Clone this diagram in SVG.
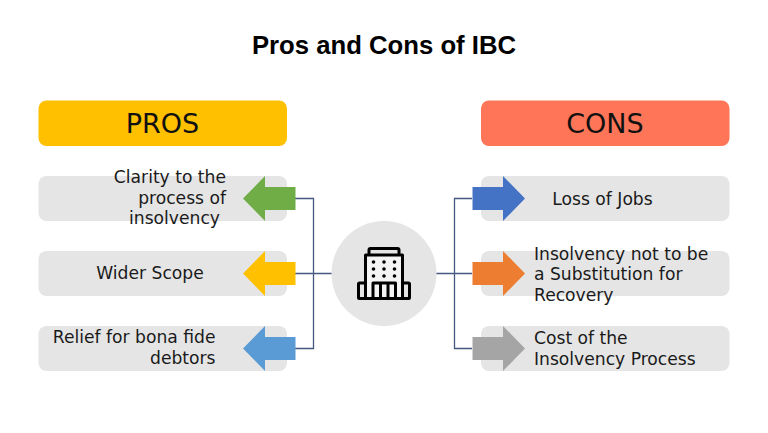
<svg xmlns="http://www.w3.org/2000/svg" width="768" height="433" viewBox="0 0 768 433">
<style>
.card{fill:#e5e5e5}
.t{font-family:"DejaVu Sans",sans-serif;font-size:17.150px;fill:#1a1a1a}
.h{font-family:"DejaVu Sans",sans-serif;font-size:27px;fill:#111;text-anchor:middle}
.e{text-anchor:end}
.m{text-anchor:middle}
.c{fill:none;stroke:#44597f;stroke-width:1.3}
.i{fill:none;stroke:#000;stroke-width:3;stroke-linejoin:round}
</style>
<rect width="768" height="433" fill="#fff"/>
<text id="title" x="384" y="53.500" text-anchor="middle" font-family="Liberation Sans, Arial, sans-serif" font-weight="700" font-size="25.700" fill="#000">Pros and Cons of IBC</text>
<g id="connectors">
<path class="c" d="M295 198.500H313.500V348.500H295M295 273.500H332"/>
<path class="c" d="M472 198.500H454.500V348.500H472M436 273.500H472"/>
</g>
<g id="pros-header"><rect x="38.500" y="100.500" width="248.500" height="45.500" rx="8" fill="#ffc000"/><text class="h" x="162.500" y="133">PROS</text></g>
<g id="cons-header"><rect x="481" y="100.500" width="248.500" height="45.500" rx="8" fill="#ff7557"/><text class="h" x="605" y="133">CONS</text></g>
<g id="pro1"><rect class="card" x="38.500" y="176" width="248.500" height="45" rx="8"/><path fill="#70ad47" d="M243 198.500L265 176V187H295.500V210H265V221Z"/>
<text class="t e" y="183"><tspan x="226" dy="0">Clarity to the</tspan><tspan x="226" dy="20.500">process of</tspan><tspan x="220" dy="20.500">insolvency</tspan></text></g>
<g id="pro2"><rect class="card" x="38.500" y="251" width="248.500" height="45" rx="8"/><path fill="#ffc000" d="M243 273.500L265 251V262H295.500V285H265V296Z"/>
<text class="t m" x="150" y="278.500">Wider Scope</text></g>
<g id="pro3"><rect class="card" x="38.500" y="326" width="248.500" height="45" rx="8"/><path fill="#5b9bd5" d="M243 348.500L265 326V337H295.500V360H265V371Z"/>
<text class="t e" y="343"><tspan x="215.500" dy="0">Relief for bona fide</tspan><tspan x="215.500" dy="21">debtors</tspan></text></g>
<g id="con1"><rect class="card" x="481" y="176" width="248.500" height="45" rx="8"/><path fill="#4472c4" d="M525 198.500L503 176V187H472.500V210H503V221Z"/>
<text class="t m" x="602.500" y="204.500">Loss of Jobs</text></g>
<g id="con2"><rect class="card" x="481" y="251" width="248.500" height="45" rx="8"/><path fill="#ed7d31" d="M525 273.500L503 251V262H472.500V285H503V296Z"/>
<text class="t" y="259.500"><tspan x="534" dy="0">Insolvency not to be</tspan><tspan x="534" dy="20.500">a Substitution for</tspan><tspan x="534" dy="20.500">Recovery</tspan></text></g>
<g id="con3"><rect class="card" x="481" y="326" width="248.500" height="45" rx="8"/><path fill="#a5a5a5" d="M525 348.500L503 326V337H472.500V360H503V371Z"/>
<text class="t" y="343.500"><tspan x="534" dy="0">Cost of the</tspan><tspan x="534" dy="21">Insolvency Process</tspan></text></g>
<g id="center"><circle cx="384" cy="273.500" r="52.500" fill="#e5e5e5"/>
<path d="M366 255H402V298H366Z" fill="#f4f4f4"/>
<path class="i" d="M369 255V250Q369 248.500 370.500 248.500H397.500Q399 248.500 399 250V255M365.500 298V255H402.500V298"/>
<rect class="i" x="358.500" y="283" width="7" height="15.500" rx="1"/>
<rect class="i" x="402.500" y="283" width="7" height="15.500" rx="1"/>
<path class="i" d="M358.500 298.500H409.500M373 298.500V283H395.500V298.500M380.500 283V298.500M388 283V298.500"/>
<g fill="#000"><circle cx="373.500" cy="262" r="1.800"/><circle cx="384" cy="262" r="1.800"/><circle cx="394.500" cy="262" r="1.800"/><circle cx="373.500" cy="269" r="1.800"/><circle cx="384" cy="269" r="1.800"/><circle cx="394.500" cy="269" r="1.800"/><circle cx="373.500" cy="276" r="1.800"/><circle cx="384" cy="276" r="1.800"/><circle cx="394.500" cy="276" r="1.800"/></g></g>
</svg>
